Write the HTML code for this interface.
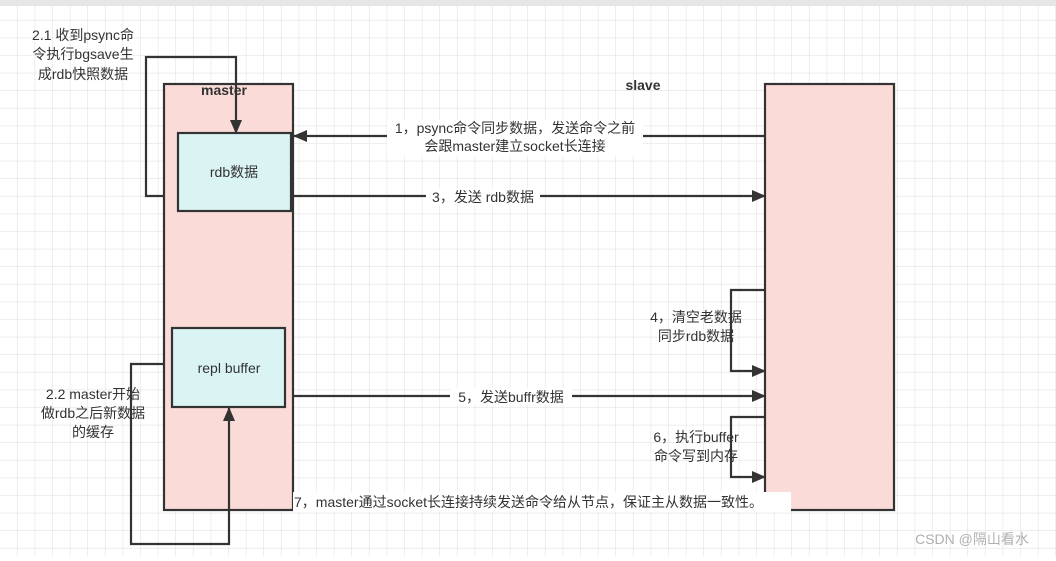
<!DOCTYPE html>
<html><head><meta charset="utf-8"><style>
html,body{margin:0;padding:0;background:#fff}
svg text{font-family:"Liberation Sans","Noto Sans CJK SC",sans-serif;fill:#333;font-size:14px}
</style></head><body>
<svg width="1056" height="556" xmlns="http://www.w3.org/2000/svg">
<defs>
<pattern id="g" width="17.6" height="17.6" patternUnits="userSpaceOnUse" x="0" y="3">
<path d="M17.6 0V17.6M0 17.6H17.6" stroke="#e2e2e2" stroke-width="1.2" fill="none"/>
</pattern>
<marker id="a" markerWidth="14" markerHeight="12" refX="13" refY="6" orient="auto" markerUnits="userSpaceOnUse"><path d="M0 0L14 6L0 12Z" fill="#333"/></marker>
</defs>
<rect width="1056" height="556" fill="url(#g)"/>
<rect width="1056" height="6" fill="#e6e6e6"/>
<g stroke="#333" stroke-width="2.2" fill="none">
<rect x="164" y="84" width="129" height="426" fill="#fadbd8"/>
<rect x="765" y="84" width="129" height="426" fill="#fadbd8"/>
<rect x="178" y="133" width="113" height="78" fill="#daf3f3"/>
<rect x="172" y="328" width="113" height="79" fill="#daf3f3"/>
<path d="M164 196H146V57H236V133" marker-end="url(#a)"/>
<path d="M164 364H131V544H229V408" marker-end="url(#a)"/>
<path d="M765 136H294" marker-end="url(#a)"/>
<path d="M293 196H765" marker-end="url(#a)"/>
<path d="M765 290H731V371H765" marker-end="url(#a)"/>
<path d="M293 396H765" marker-end="url(#a)"/>
<path d="M765 417H731V477H765" marker-end="url(#a)"/>
</g>
<text x="224" y="95" text-anchor="middle" font-weight="bold">master</text>
<text x="643" y="90" text-anchor="middle" font-weight="bold">slave</text>
<text x="234" y="177" text-anchor="middle" font-size="15">rdb数据</text>
<text x="229" y="373" text-anchor="middle" font-size="15">repl  buffer</text>
<text x="83" y="40" text-anchor="middle">2.1 收到psync命</text>
<text x="83" y="59" text-anchor="middle">令执行bgsave生</text>
<text x="83" y="79" text-anchor="middle">成rdb快照数据</text>
<text x="93" y="399" text-anchor="middle">2.2  master开始</text>
<text x="93" y="418" text-anchor="middle">做rdb之后新数据</text>
<text x="93" y="437" text-anchor="middle">的缓存</text>
<rect x="387" y="120" width="256" height="36" fill="#fff"/>
<text x="515" y="133" text-anchor="middle">1，psync命令同步数据，发送命令之前</text>
<text x="515" y="151" text-anchor="middle">会跟master建立socket长连接</text>
<rect x="426" y="188" width="114" height="17" fill="#fff"/>
<text x="483" y="202" text-anchor="middle">3，发送 rdb数据</text>
<text x="696" y="322" text-anchor="middle">4，清空老数据</text>
<text x="696" y="341" text-anchor="middle">同步rdb数据</text>
<rect x="450" y="388" width="122" height="17" fill="#fff"/>
<text x="511" y="402" text-anchor="middle">5，发送buffr数据</text>
<text x="696" y="442" text-anchor="middle">6，执行buffer</text>
<text x="696" y="461" text-anchor="middle">命令写到内存</text>
<rect x="293" y="492" width="498" height="20" fill="#fff"/>
<text x="294" y="507">7，master通过socket长连接持续发送命令给从节点，保证主从数据一致性。</text>
<text x="972" y="544" text-anchor="middle" style="fill:#b0b0b0" font-size="16">CSDN @隔山看水</text>
</svg>
</body></html>
